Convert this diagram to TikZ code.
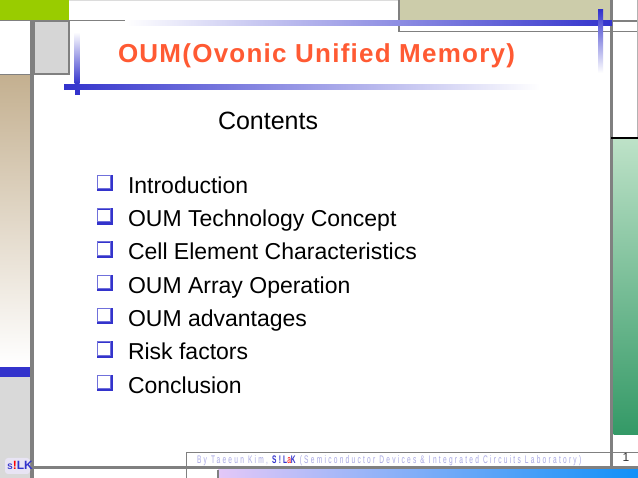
\documentclass[tikz,border=0pt]{standalone}
\usepackage{fontspec}
\setmainfont{Liberation Sans}
\newfontfamily\footfont[LetterSpace=20.5,FakeStretch=0.6]{Liberation Sans}
\newfontfamily\titlefont[LetterSpace=4.8]{Liberation Sans}
\definecolor{framegray}{HTML}{808080}
\definecolor{barblue}{HTML}{3333CC}
\definecolor{titlered}{HTML}{FF5A33}
\definecolor{footblue}{HTML}{A8A8E4}

\begin{document}
\begin{tikzpicture}[x=1pt,y=-1pt,
      every node/.style={inner sep=0pt,outer sep=0pt,anchor=base west},
      frameline/.style={draw=framegray,line width=1.2pt},
      heavyline/.style={fill=framegray},
      listitem/.style={font=\fontsize{23}{26}\selectfont,text=black},
      footpart/.style={font=\footfont\fontsize{11}{12}\selectfont,text=footblue}]
    \useasboundingbox (0,0) rectangle (638,478);
    \fill[white] (0,0) rectangle (638,478);
    % left column
    \fill[fill={rgb,255:red,153;green,204;blue,0}] (0,0) rectangle (69,20);
    \draw[frameline,fill={rgb,255:red,214;green,214;blue,214}] (34,21) rectangle (69,74);
    \shade[top color={rgb,255:red,196;green,176;blue,144},bottom color=white] (0,75) rectangle (30,365);
    \fill[barblue] (0,367) rectangle (30,377);
    \fill[fill={rgb,255:red,217;green,217;blue,217}] (0,377) rectangle (30,478);
    \draw[framegray,line width=0.8pt] (0,74.5) -- (30,74.5);
    \fill[heavyline] (30,20) rectangle (34,478);
    % top band
    \draw[draw={rgb,255:red,220;green,220;blue,220},line width=0.6pt] (69,0.3) -- (399,0.3);
    \draw[frameline] (0,20.5) -- (125,20.5);
    \fill[fill={rgb,255:red,204;green,204;blue,170}] (399,0) rectangle (610,20);
    \draw[frameline] (399,0) -- (399,31.5) -- (610,31.5);
    \draw[frameline] (399,20.5) -- (610,20.5);
    % right column
    \fill[heavyline] (610,0) rectangle (613.3,478);
    \draw[frameline] (613,21) -- (638,21);
    \draw[framegray,line width=0.7pt] (613,31.5) -- (638,31.5);
    \draw[black!30,line width=0.6pt] (637.5,0) -- (637.5,137);
    \shade[top color={rgb,255:red,190;green,226;blue,200},bottom color={rgb,255:red,51;green,153;blue,102}] (613.5,138) rectangle (638,435);
    \draw[black,line width=1.5pt] (611,138) -- (638,138);
    % title bars
    \shade[left color=white,right color=barblue] (125,21) rectangle (612,26);
    \shade[top color=barblue,bottom color=white] (598,10) rectangle (603,73);
    \shade[top color=white,bottom color=barblue] (74.5,32) rectangle (79.5,84);
    \fill[barblue] (74.5,84) rectangle (79.5,95);
    \shade[left color=barblue,right color=white] (64,84.5) rectangle (540,90);
    % bottom band
    \draw[framegray,line width=0.8pt] (186,478) -- (186,452) -- (638,452);
    \shade[left color={rgb,255:red,228;green,200;blue,248},right color={rgb,255:red,16;green,144;blue,248}] (218,470) rectangle (638,478);
    \draw[frameline] (218,470) -- (218,478);
    \fill[heavyline] (34,465.7) rectangle (638,469.3);
    % title and contents
    \node[font=\titlefont\fontsize{26}{28}\selectfont\bfseries,text=titlered] (title) at (118,63) {OUM(Ovonic Unified Memory)};
    \node[font=\fontsize{25}{28}\selectfont] (contents) at (218,130) {Contents};
    \foreach \itemtext [count=\itemno] in {Introduction,OUM Technology Concept,Cell Element Characteristics,OUM Array Operation,OUM advantages,Risk factors,Conclusion} {
      \node[listitem] (item\itemno) at (128,160+33.3*\itemno) {\itemtext};
      \fill[barblue] (96.5,141.5+33.3*\itemno) rectangle (113,158+33.3*\itemno);
      \fill[white] (98,143+33.3*\itemno) rectangle (110.5,155+33.3*\itemno);
      \draw[barblue!70,line width=0.8pt] (97,142+33.3*\itemno) rectangle (110.5,155.2+33.3*\itemno);
      \fill[white] (98,143+33.3*\itemno) rectangle (110,154.6+33.3*\itemno);
    }
    % footer
    \node[footpart] (byline) at (197,464) {By Taeeun Kim, \textcolor{barblue}{\bfseries S!L}\textcolor{red}{a}\textcolor{barblue}{\bfseries K} (Semiconductor Devices \& Integrated Circuits Laboratory)};
    \node[font=\fontsize{12}{12}\selectfont,text=black!80] (pageno) at (622.5,462) {1};
    % logo
    \fill[fill={rgb,255:red,232;green,228;blue,244},rounded corners=3pt] (5,458) rectangle (30,474);
    \node[font=\fontsize{12}{12}\selectfont\bfseries] (logo) at (7.5,470) {\textcolor{barblue}{\fontsize{8}{8}\selectfont S}\textcolor{red}{!}\textcolor{barblue}{LK}};
\end{tikzpicture}
\end{document}
